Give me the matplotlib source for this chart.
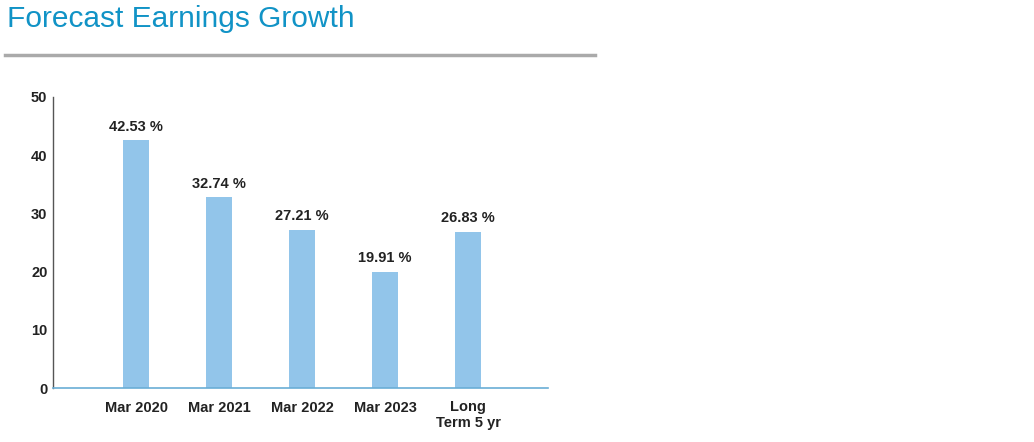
import matplotlib.pyplot as plt
from matplotlib.lines import Line2D

categories = ['Mar 2020', 'Mar 2021', 'Mar 2022', 'Mar 2023', 'Long\nTerm 5 yr']
growth = [42.53, 32.74, 27.21, 19.91, 26.83]
yticks = [0, 10, 20, 30, 40, 50]

plt.rcParams['font.family'] = ['Liberation Sans', 'DejaVu Sans']

fig = plt.figure(figsize=(10.34, 4.42), dpi=100)
fig.text(7 / 1034, 1 - 19 / 442, 'Forecast Earnings Growth', color='#1193c6',
         fontsize=21.5, va='center', ha='left')
fig.add_artist(Line2D([5 / 1034, 595 / 1034], [1 - 55 / 442, 1 - 55 / 442],
                      color='#aaaaaa', lw=2.5, transform=fig.transFigure))

ax = fig.add_axes([53 / 1034, 1 - 388 / 442, 495 / 1034, 291 / 442])
x = list(range(1, len(categories) + 1))
bars = ax.bar(x, growth, width=0.31, color='#92c5ea', zorder=2)
for xi, v in zip(x, growth):
    ax.annotate(f'{v:.2f} %', (xi, v), xytext=(0, 5), textcoords='offset points',
                ha='center', va='bottom', fontsize=10.5, fontweight='bold', color='#222222')

ax.set_xlim(0, 5.96)
ax.set_ylim(0, 50)
ax.set_yticks(yticks)
ax.set_xticks(x)
ax.set_xticklabels(categories, fontsize=10.5, fontweight='bold', color='#222222',
                   linespacing=1.15)
ax.tick_params(axis='y', length=0, pad=4, labelsize=10.5, labelcolor='#222222')
for lbl in ax.get_yticklabels():
    lbl.set_fontweight('bold')
ax.tick_params(axis='x', length=0, pad=9)
for s in ['top', 'right']:
    ax.spines[s].set_visible(False)
ax.spines['left'].set_color('#555555')
ax.spines['left'].set_linewidth(1.0)
ax.spines['bottom'].set_color('#6aaed6')
ax.spines['bottom'].set_linewidth(1.2)

fig.savefig('out.png', dpi=100)
